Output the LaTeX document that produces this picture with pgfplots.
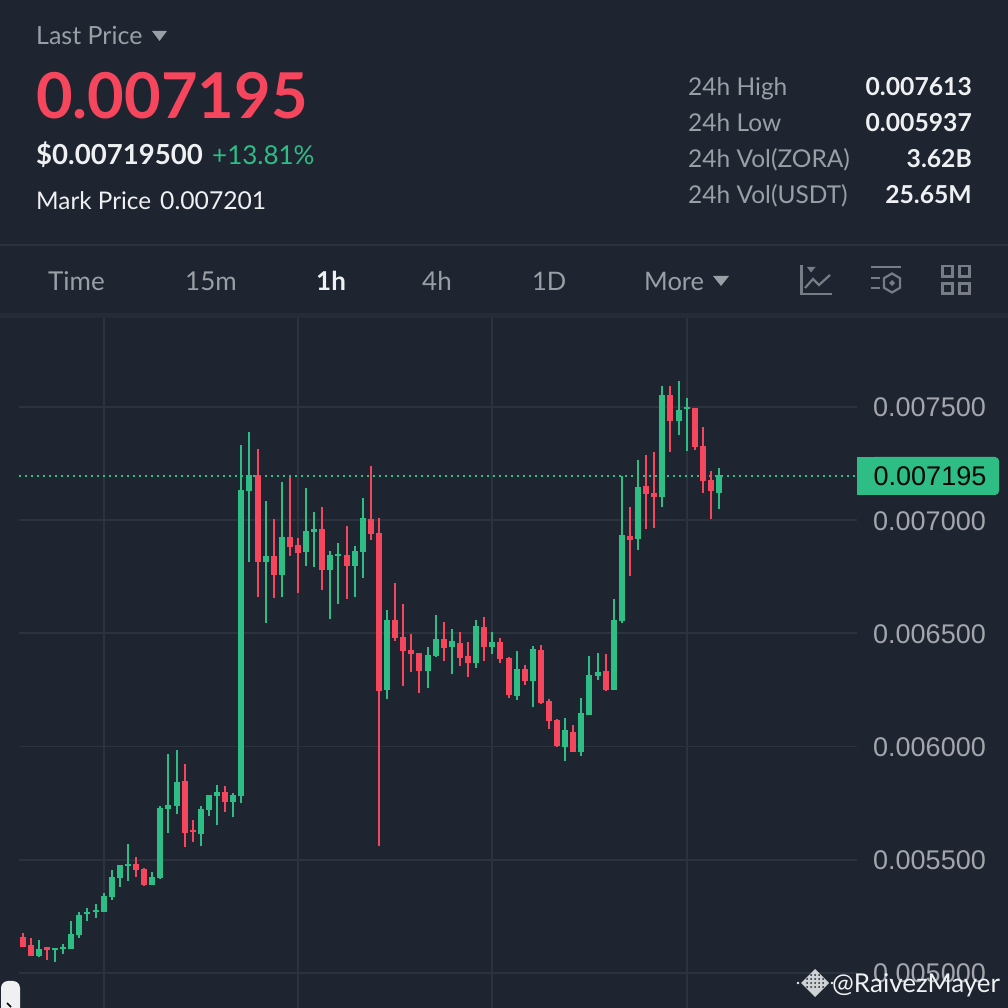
\documentclass[border=0pt]{standalone}
\usepackage{pgfplots}
\usepackage{pgfplotstable}
\pgfplotsset{compat=1.18}
\usepackage{fontspec}
\setmainfont{Lato}
\newfontfamily\tickf{Liberation Sans}
\definecolor{bg}{HTML}{1E2530}
\definecolor{gridc}{HTML}{2C333E}
\definecolor{G}{HTML}{2EBD85}
\definecolor{R}{HTML}{F6465D}
\definecolor{lab}{HTML}{9A9EA5}
\definecolor{tick}{HTML}{A3A6AC}
\definecolor{icon}{HTML}{777C85}
\definecolor{wh}{HTML}{EEF0F2}
\definecolor{band}{HTML}{262C36}
\pgfplotstableread{
x high top bottom low
2 0.005146 0.005106 0.005076 0.005071
4 0.005110 0.005110 0.005103 0.005049
5 0.005127 0.005116 0.005106 0.005084
6 0.005230 0.005172 0.005106 0.005106
7 0.005268 0.005256 0.005168 0.005155
8 0.005287 0.005271 0.005262 0.005230
9 0.005306 0.005278 0.005269 0.005243
10 0.005352 0.005340 0.005269 0.005269
11 0.005455 0.005424 0.005336 0.005322
12 0.005477 0.005476 0.005421 0.005380
13 0.005570 0.005481 0.005473 0.005406
16 0.005446 0.005424 0.005389 0.005389
17 0.005738 0.005729 0.005420 0.005415
18 0.005967 0.005742 0.005724 0.005618
19 0.005985 0.005844 0.005738 0.005702
22 0.005738 0.005724 0.005614 0.005561
23 0.005786 0.005786 0.005720 0.005693
24 0.005830 0.005799 0.005782 0.005654
26 0.005795 0.005786 0.005755 0.005689
27 0.007332 0.007133 0.005782 0.005751
28 0.007390 0.007200 0.007129 0.006815
30 0.007085 0.006842 0.006815 0.006546
32 0.007169 0.006926 0.006758 0.006661
35 0.007142 0.006952 0.006860 0.006798
36 0.007036 0.006961 0.006948 0.006793
38 0.006864 0.006846 0.006780 0.006564
39 0.006899 0.006851 0.006842 0.006630
41 0.006886 0.006864 0.006798 0.006661
42 0.007098 0.007010 0.006860 0.006745
45 0.006603 0.006559 0.006250 0.006210
50 0.006440 0.006405 0.006334 0.006259
51 0.006581 0.006475 0.006400 0.006396
53 0.006519 0.006466 0.006440 0.006321
56 0.006559 0.006533 0.006369 0.006347
58 0.006506 0.006462 0.006440 0.006409
61 0.006422 0.006343 0.006224 0.006206
63 0.006444 0.006431 0.006290 0.006175
67 0.006126 0.006073 0.005998 0.005936
69 0.006215 0.006148 0.005976 0.005958
70 0.006400 0.006316 0.006139 0.006139
71 0.006413 0.006330 0.006312 0.006294
73 0.006652 0.006559 0.006250 0.006250
74 0.007195 0.006935 0.006555 0.006546
76 0.007266 0.007147 0.006917 0.006868
79 0.007593 0.007553 0.007103 0.007058
81 0.007615 0.007487 0.007438 0.007376
82 0.007540 0.007500 0.007491 0.007306
86 0.007231 0.007200 0.007120 0.007049
}\greencandles
\pgfplotstableread{
x high top bottom low
0 0.005178 0.005160 0.005116 0.005113
1 0.005155 0.005124 0.005076 0.005075
3 0.005116 0.005113 0.005102 0.005057
14 0.005512 0.005481 0.005455 0.005424
15 0.005464 0.005459 0.005389 0.005384
20 0.005923 0.005848 0.005618 0.005556
21 0.005676 0.005633 0.005624 0.005579
25 0.005826 0.005799 0.005755 0.005711
29 0.007314 0.007200 0.006815 0.006661
31 0.007005 0.006842 0.006758 0.006656
33 0.007191 0.006926 0.006882 0.006842
34 0.006921 0.006890 0.006855 0.006678
37 0.007058 0.006961 0.006780 0.006692
40 0.006974 0.006846 0.006798 0.006652
43 0.007239 0.007005 0.006939 0.006913
44 0.007010 0.006943 0.006246 0.005561
46 0.006723 0.006559 0.006480 0.006466
47 0.006630 0.006484 0.006422 0.006268
48 0.006497 0.006427 0.006409 0.006330
49 0.006413 0.006413 0.006334 0.006237
52 0.006550 0.006475 0.006436 0.006378
54 0.006506 0.006458 0.006391 0.006356
55 0.006462 0.006400 0.006369 0.006307
57 0.006572 0.006528 0.006440 0.006378
59 0.006480 0.006462 0.006387 0.006369
60 0.006396 0.006391 0.006228 0.006215
62 0.006360 0.006343 0.006290 0.006272
64 0.006449 0.006427 0.006192 0.006188
65 0.006210 0.006201 0.006113 0.006078
66 0.006122 0.006117 0.006003 0.005998
68 0.006095 0.006064 0.005976 0.005976
72 0.006409 0.006334 0.006250 0.006246
75 0.007058 0.006930 0.006913 0.006754
77 0.007288 0.007151 0.007116 0.006961
78 0.007301 0.007120 0.007103 0.006966
80 0.007593 0.007553 0.007438 0.007301
83 0.007496 0.007496 0.007323 0.007310
84 0.007412 0.007328 0.007173 0.007120
85 0.007217 0.007178 0.007129 0.007005
}\redcandles
\newcommand{\T}[6]{\node[anchor=#3,inner sep=0pt,text=#4,font=\fontsize{#5}{#5}\selectfont] at (#1,#2) {#6};}
\begin{document}
\begin{tikzpicture}
\path[use as bounding box] (0,0) rectangle (1008pt,1008pt);
\fill[bg] (0,0) rectangle (1008pt,1008pt);
\begin{axis}[
  at={(19pt,0pt)},anchor=south west,
  scale only axis,width=838pt,height=690pt,
  xmin=-0.457,xmax=103.04,ymin=0.0048454,ymax=0.0078931,
  axis line style={draw=none},
  major tick length=0pt,
  scaled y ticks=false,scaled x ticks=false,
  xtick={10,34,58,82},xticklabels={},
  ytick={0.005,0.0055,0.006,0.0065,0.007,0.0075},
  yticklabels={0.005000,0.005500,0.006000,0.006500,0.007000,0.007500},
  ticklabel pos=right,
  yticklabel style={anchor=east,xshift=129pt,yshift=-0.6pt,inner sep=0pt,text=tick,font=\tickf\fontsize{27}{27}\selectfont},
  grid=major,
  grid style={gridc,line width=1.8pt},
  clip=true,
]
\addplot[G,line width=1.4pt,dash pattern=on 2pt off 4pt,forget plot] coordinates {(-0.457,0.007195)(103.04,0.007195)};
\addplot[draw=none,mark=none,error bars/.cd,y dir=plus,y explicit,error mark=none,error bar style={draw=G,line width=2pt,solid}]
  table[x=x,y=low,y error plus expr=\thisrow{high}-\thisrow{low}] {\greencandles};
\addplot[draw=none,mark=none,error bars/.cd,y dir=plus,y explicit,error mark=none,error bar style={draw=G,line width=6pt,solid}]
  table[x=x,y=bottom,y error plus expr=\thisrow{top}-\thisrow{bottom}] {\greencandles};
\addplot[draw=none,mark=none,error bars/.cd,y dir=plus,y explicit,error mark=none,error bar style={draw=R,line width=2pt,solid}]
  table[x=x,y=low,y error plus expr=\thisrow{high}-\thisrow{low}] {\redcandles};
\addplot[draw=none,mark=none,error bars/.cd,y dir=plus,y explicit,error mark=none,error bar style={draw=R,line width=6pt,solid}]
  table[x=x,y=bottom,y error plus expr=\thisrow{top}-\thisrow{bottom}] {\redcandles};
\end{axis}
\begin{scope}[x=1pt,y=-1pt,yshift=1008pt]
% header
\T{36}{45}{base west}{lab}{25}{Last Price}
\fill[lab] (152,31) -- (167,31) -- (159.5,41) -- cycle;
\T{36}{118.5}{base west}{R}{63.2}{\bfseries 0.007195}
\T{36}{165}{base west}{wh}{27.6}{\bfseries \$0.00719500}
\T{212}{165}{base west}{G}{26}{+13.81\%}
\T{36}{210}{base west}{wh}{24.3}{Mark Price}
\T{160}{210}{base west}{wh}{24.7}{0.007201}
\T{688}{96}{base west}{lab}{24.5}{24h High}
\T{688}{132}{base west}{lab}{24.5}{24h Low}
\T{688}{168}{base west}{lab}{24.5}{24h Vol(ZORA)}
\T{688}{204}{base west}{lab}{24.5}{24h Vol(USDT)}
\T{972}{96}{base east}{wh}{24.7}{\bfseries 0.007613}
\T{972}{132}{base east}{wh}{24.7}{\bfseries 0.005937}
\T{972}{168}{base east}{wh}{24.7}{\bfseries 3.62B}
\T{972}{204}{base east}{wh}{24.7}{\bfseries 25.65M}
\draw[gridc,line width=1.2pt] (0,245) -- (1008,245);
% tabs
\T{48}{291}{base west}{lab}{26}{Time}
\T{185}{291}{base west}{lab}{26}{15m}
\T{316}{291}{base west}{wh}{26}{\bfseries 1h}
\T{422}{291}{base west}{lab}{26}{4h}
\T{532}{291}{base west}{lab}{25.5}{1D}
\T{644}{291}{base west}{lab}{25.5}{More}
\fill[lab] (713,276) -- (729,276) -- (721,286) -- cycle;
\fill[band] (0,313) rectangle (1008,318);
% icons
\begin{scope}[icon,line width=2.2pt]
\draw (801.5,265) -- (801.5,294) -- (832,294);
\fill (807,267) -- (815.5,267) -- (811,272.5) -- cycle;
\draw (805,288) -- (813,279) -- (819,285) -- (830,275);
\draw (871,267) -- (901,267);
\draw (871,278) -- (880,278);
\draw (871,288) -- (880,288);
\draw (892,273.5) -- (900,278.2) -- (900,287.8) -- (892,292.5) -- (884,287.8) -- (884,278.2) -- cycle;
\fill (892,280) -- (895,283) -- (892,286) -- (889,283) -- cycle;
\draw (942.5,266) rectangle (952.5,276.5);
\draw (959.5,266) rectangle (969.5,276.5);
\draw (942.5,283.5) rectangle (952.5,293.5);
\draw (959.5,283.5) rectangle (969.5,293.5);
\end{scope}
% price tag
\fill[G,rounded corners=4pt] (870,457) rectangle (999,495);
\fill[G] (857,457) rectangle (880,495);
\T{930}{486}{base}{black!85!bg}{27}{\tickf 0.007195}
% watermark
\fill[wh!85!bg] (815,969) -- (829,983) -- (815,997) -- (801,983) -- cycle;
\foreach \a/\b in {807/979,811/979,815/979,819/979,823/979,807/983,811/983,815/983,819/983,823/983,807/987,811/987,815/987,819/987,823/987,811/975,815/975,819/975}
  \fill[bg] (\a,\b) circle (1pt);
\foreach \a in {798,832}
  \fill[wh] (\a,983) circle (1.3pt);
\T{832}{992}{base west}{wh}{26}{@RaivezMayer}
% scroll handle
\fill[wh,rounded corners=7pt] (1,981) rectangle (20,1020);
\draw[black,line width=1.6pt] (7,1003) -- (11,1007);
\fill[icon!60!bg] (72,1008) arc[start angle=180,end angle=0,x radius=13,y radius=2.5] -- cycle;
\end{scope}
\end{tikzpicture}
\end{document}
